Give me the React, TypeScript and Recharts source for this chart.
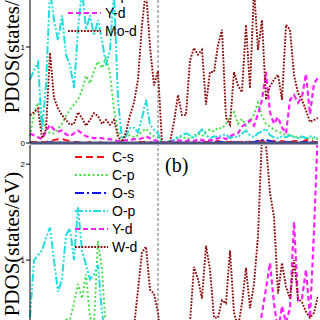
import React from 'react';
import { LineChart, Line, XAxis, YAxis, ReferenceLine, Legend } from 'recharts';

// Energy grid (eV), Fermi level at 0
const energy = [
  -8, -7.75, -7.5, -7.25, -7, -6.75, -6.5, -6.25, -6, -5.75,
  -5.5, -5.25, -5, -4.75, -4.5, -4.25, -4, -3.75, -3.5, -3.25,
  -3, -2.75, -2.5, -2.25, -2, -1.75, -1.5, -1.25, -1, -0.75,
  -0.5, -0.25, 0, 0.25, 0.5, 0.75, 1, 1.25, 1.5, 1.75,
  2, 2.25, 2.5, 2.75, 3, 3.25, 3.5, 3.75, 4, 4.25,
  4.5, 4.75, 5, 5.25, 5.5, 5.75, 6, 6.25, 6.5, 6.75,
  7, 7.25, 7.5, 7.75, 8, 8.25, 8.5, 8.75, 9, 9.25,
  9.5, 9.75, 10,
];
const xTicks = [-8, -7, -6, -5, -4, -3, -2, -1, 0, 1, 2, 3, 4, 5, 6, 7, 8, 9, 10];
const topTicks = [0, 1];
const bottomTicks = [0, 1, 2];

// Panel (a): Mo-doped
const topCs = [0.01,0.01,0.01,0.01,0.01,0.02,0.03,0.04,0.04,0.03, 0.02,0.01,0.01,0,0,0.01,0,0,0.01,0, 0,0,0,0,0,0,0,0.01,0.01,0.01, 0.01,0,0,0,0,0,0,0.01,0,0, 0.01,0.01,0,0.01,0.01,0.01,0.01,0.02,0.01,0.01, 0.01,0.02,0.01,0.01,0.02,0.01,0.01,0.02,0.02,0.01, 0.01,0.02,0.01,0.02,0.01,0.01,0.02,0.02,0.01,0.03, 0.03,0.01,0.01];
const topCp = [0.07,0.3,0.42,0.28,0.15,0.1,0.1,0.15,0.2,0.28, 0.35,0.4,0.45,0.55,0.7,0.62,0.75,0.85,0.78,0.9, 0.72,0.35,0.12,0.05,0.07,0.08,0.06,0.08,0.12,0.15, 0.1,0.07,0.05,0.01,0.01,0.02,0.03,0.07,0.05,0.06, 0.04,0.08,0.1,0.07,0.12,0.14,0.12,0.16,0.15,0.2, 0.28,0.32,0.2,0.25,0.18,0.22,0.3,0.42,0.28,0.2, 0.17,0.14,0.12,0.1,0.08,0.09,0.06,0.07,0.05,0.06, 0.04,0.05,0.04];
const topOs = [0,0,0,0,0,0.01,0,0,0.01,0, 0,0,0.01,0,0,0,0,0,0,0, 0,0,0,0,0,0,0,0,0,0, 0,0,0,0,0,0,0,0,0,0, 0,0,0,0,0,0,0,0.01,0.01,0, 0,0.01,0,0,0.01,0.01,0.01,0.02,0.03,0.03, 0.02,0.01,0.01,0,0.01,0.01,0,0,0.01,0.01, 0,0.01,0];
const topOp = [0.66,0.76,0.84,0.14,0.6,1.6,1.28,1.07,1.33,0.92, 0.81,0.57,1.18,1.6,1.18,1.33,1.12,1.28,1.07,0.81, 0.97,1.6,0.45,0.03,0.07,0.16,0.16,0.11,0.26,0.45, 0.19,0.14,0.1,0,0.01,0.02,0.03,0.06,0.08,0.1, 0.08,0.05,0.1,0.14,0.08,0.05,0.07,0.06,0.08,0.09, 0.05,0.07,0.06,0.1,0.13,0.08,0.06,0.1,0.12,0.15, 0.08,0.06,0.05,0.07,0.06,0.08,0.06,0.05,0.07,0.05, 0.07,0.06,0.06];
const topYd = [0.1,0.08,0.06,0.04,0.12,0.19,0.14,0.12,0.13,0.09, 0.07,0.1,0.13,0.1,0.07,0.06,0.05,0.05,0.05,0.04, 0.04,0.03,0.02,0.02,0.03,0.03,0.04,0.04,0.05,0.07, 0.05,0.03,0.02,0.01,0.01,0.01,0.02,0.03,0.02,0.02, 0.03,0.02,0.04,0.03,0.02,0.03,0.03,0.05,0.06,0.04, 0.07,0.09,0.1,0.17,0.2,0.24,0.18,0.3,0.45,0.74, 0.32,0.2,0.27,0.16,0.1,0.45,0.5,0.42,0.48,0.72, 0.3,0.62,0.68];
const topMd = [0.29,0.32,0.36,0.05,0.14,0.94,0.47,0.36,0.29,0.24, 0.19,0.2,0.32,0.26,0.18,0.24,0.31,0.28,0.2,0.24, 0.19,0.24,0.07,0.01,0.11,0.29,0.42,0.66,1.23,1.6, 1.0,0.6,0.75,0,0,0.01,0.22,0.5,0.29,0.29, 0.86,0.99,0.92,0.97,0.4,0.74,0.74,1.02,1.18,0.26, 0.19,0.74,0.6,0.53,1.23,0.57,1.6,0.97,1.28,0.45, 0.59,0.66,0.71,0.45,1.23,1.18,0.71,0.52,0.45,0.34, 0.22,0.24,0.26];

// Panel (b): W-doped
const botCs = [0.02,0.03,0.02,0.02,0.03,0.04,0.05,0.06,0.05,0.04, 0.03,0.02,0.02,0.01,0.01,0.01,0.01,0.01,0.01,0.01, 0.01,0.01,0,0,0,0,0.01,0.01,0.01,0.01, 0.01,0.01,0,0,0,0,0,0.01,0.01,0.01, 0.01,0.01,0.01,0.01,0.02,0.01,0.01,0.02,0.02,0.01, 0.02,0.02,0.01,0.02,0.02,0.01,0.02,0.03,0.03,0.02, 0.02,0.02,0.01,0.02,0.02,0.01,0.02,0.03,0.02,0.03, 0.02,0.02,0.01];
const botCp = [0.1,0.15,0.12,0.1,0.08,0.1,0.12,0.2,0.35,0.38, 0.38,0.55,0.75,0.6,0.85,0.4,0.35,1.2,0.9,0.25, 0.2,0.12,0.08,0.05,0.06,0.08,0.06,0.08,0.1,0.12, 0.08,0.06,0.04,0.01,0.01,0.02,0.03,0.06,0.05,0.06, 0.05,0.08,0.1,0.08,0.12,0.14,0.12,0.15,0.16,0.2, 0.25,0.3,0.22,0.24,0.2,0.22,0.28,0.35,0.3,0.22, 0.18,0.15,0.12,0.1,0.09,0.08,0.07,0.07,0.06,0.06, 0.05,0.05,0.04];
const botOs = [0.01,0.01,0.01,0.01,0.01,0.02,0.01,0.01,0.01,0.01, 0.01,0.01,0.01,0,0,0,0,0,0,0, 0,0,0,0,0,0,0,0,0,0, 0,0,0,0,0,0,0,0,0,0, 0,0,0,0,0,0,0,0.01,0.01,0.01, 0.01,0.01,0.01,0.01,0.01,0.01,0.01,0.02,0.03,0.03, 0.02,0.01,0.01,0.01,0.01,0.01,0.01,0.01,0.01,0.01, 0.01,0.01,0.01];
const botOp = [0.4,1.0,1.05,1.1,1.23,1.34,1.0,0.67,0.8,1.26, 1.33,1.0,1.55,1.1,0.95,0.8,0.85,0.95,0.45,0.2, 0.12,0.3,0.15,0.05,0.06,0.1,0.12,0.08,0.15,0.2, 0.12,0.1,0.06,0,0.01,0.02,0.04,0.06,0.05,0.08, 0.06,0.05,0.08,0.1,0.06,0.05,0.07,0.06,0.08,0.07, 0.05,0.06,0.07,0.08,0.1,0.07,0.06,0.09,0.1,0.12, 0.08,0.06,0.05,0.07,0.06,0.07,0.06,0.05,0.06,0.05, 0.06,0.05,0.06];
const botYd = [0.05,0.06,0.08,0.06,0.1,0.12,0.1,0.08,0.09,0.07, 0.06,0.08,0.1,0.08,0.06,0.05,0.04,0.04,0.05,0.04, 0.03,0.03,0.02,0.02,0.03,0.03,0.04,0.05,0.06,0.07, 0.05,0.04,0.03,0.02,0.02,0.02,0.03,0.04,0.03,0.03, 0.04,0.03,0.05,0.04,0.03,0.04,0.05,0.06,0.08,0.07, 0.1,0.12,0.14,0.2,0.25,0.3,0.22,0.2,0.45,0.7, 0.97,0.55,0.25,0.52,0.35,0.5,1.4,0.58,0.6,0.9, 0.4,1.3,2.4];
const botWd = [0.12,0.1,0.08,0.1,0.14,0.12,0.1,0.08,0.1,0.12, 0.1,0.08,0.1,0.12,0.1,0.08,0.06,0.08,0.1,0.12, 0.14,0.12,0.1,0.08,0.12,0.18,0.3,0.69,1.08,1.14, 0.69,0.65,0.45,0.1,0.05,0.05,0.1,0.15,0.2,0.25, 0.35,0.93,0.8,0.6,1.15,0.9,0.4,0.4,0.58,0.55, 1.1,0.45,0.3,0.55,0.92,0.5,0.75,1.25,2.3,2.2, 1.7,1.45,0.65,0.97,0.72,0.6,1.0,0.6,0.56,0.46, 0.4,0.45,0.63];

type Style = { color: string; dash: string; width: number };
const lineStyle: Record<string, Style> = {
  cs: { color: '#ff1010', dash: '7 4', width: 2 },
  cp: { color: '#33dd33', dash: '1.8 2.6', width: 1.9 },
  os: { color: '#1010ff', dash: '9 3 2 3', width: 2 },
  op: { color: '#22dddd', dash: '8 2 2 2 2 2', width: 2 },
  yd: { color: '#ff20ff', dash: '5 3', width: 2.2 },
  md: { color: '#8b0a0a', dash: '1.8 1.4', width: 1.9 },
};

type Item = { key: string; name: string };
const topItems: Item[] = [
  { key: 'cs', name: 'C-s' }, { key: 'cp', name: 'C-p' }, { key: 'os', name: 'O-s' },
  { key: 'op', name: 'O-p' }, { key: 'yd', name: 'Y-d' }, { key: 'md', name: 'Mo-d' },
];
const botItems: Item[] = [
  { key: 'cs', name: 'C-s' }, { key: 'cp', name: 'C-p' }, { key: 'os', name: 'O-s' },
  { key: 'op', name: 'O-p' }, { key: 'yd', name: 'Y-d' }, { key: 'md', name: 'W-d' },
];

const topData = energy.map((e, i) => ({
  e, cs: topCs[i], cp: topCp[i], os: topOs[i], op: topOp[i], yd: topYd[i], md: topMd[i],
}));
const botData = energy.map((e, i) => ({
  e, cs: botCs[i], cp: botCp[i], os: botOs[i], op: botOp[i], yd: botYd[i], md: botWd[i],
}));

const ROW = 18;
function LegendBox({ items }: { items: Item[] }) {
  return (
    <svg width={100} height={items.length * ROW} style={{ overflow: 'visible', display: 'block' }}>
      {items.map((it, k) => {
        const s = lineStyle[it.key];
        const y = ROW / 2 + k * ROW;
        return (
          <g key={it.key}>
            <line x1={0} x2={33} y1={y} y2={y} stroke={s.color} strokeWidth={s.width} strokeDasharray={s.dash} />
            <text x={37} y={y} dominantBaseline="central" fontFamily="'Liberation Sans', Arial, sans-serif" fontSize={14} fill="#000">
              {it.name}
            </text>
          </g>
        );
      })}
    </svg>
  );
}

const tickFont = { fontSize: 8, fill: '#000', fontFamily: "'Liberation Sans', Arial, sans-serif" };

function renderLines(items: Item[]) {
  return items.map((it) => {
    const s = lineStyle[it.key];
    return (
      <Line
        key={it.key}
        dataKey={it.key}
        name={it.name}
        type="linear"
        stroke={s.color}
        strokeWidth={s.width}
        strokeDasharray={s.dash}
        dot={false}
        activeDot={false}
        isAnimationActive={false}
      />
    );
  });
}

export default function App() {
  return (
    <div style={{ position: 'absolute', left: 0, top: 0, width: 320, height: 320, overflow: 'hidden', background: '#fff' }}>
      {/* axis titles and panel tag, drawn underneath the charts */}
      <svg width={320} height={320} style={{ position: 'absolute', left: 0, top: 0 }}>
        <g fontFamily="'Liberation Serif', 'Times New Roman', serif" fontSize={21} fill="#000">
          <text x={19} y={41} textAnchor="middle" transform="rotate(-90 19 41)">PDOS(states/eV)</text>
          <text x={19} y={244} textAnchor="middle" transform="rotate(-90 19 244)">PDOS(states/eV)</text>
        </g>
        <text x={165} y={172} fontFamily="'Liberation Serif', 'Times New Roman', serif" fontSize={20} fill="#000">(b)</text>
      </svg>
      {/* panel (a) */}
      <div style={{ position: 'absolute', left: 0, top: -1 }}>
        <LineChart width={318} height={150} data={topData} margin={{ top: 0, right: 0, bottom: 0, left: 0 }}>
          <XAxis
            dataKey="e" type="number" domain={[-8, 10]} ticks={xTicks} interval={0}
            height={6} tickSize={5} tick={false}
            axisLine={{ stroke: '#4c5480', strokeWidth: 3 }} tickLine={{ stroke: '#333' }}
          />
          <YAxis
            type="number" domain={[0, 1.5]} ticks={topTicks} allowDataOverflow width={30}
            tickSize={4} tickMargin={1} tick={tickFont} axisLine={{ stroke: '#000' }} tickLine={{ stroke: '#000' }}
          />
          <ReferenceLine x={0} stroke="#888" strokeDasharray="3 2" strokeWidth={1.2} />
          {renderLines(topItems)}
          <Legend
            layout="vertical" align="center" verticalAlign="middle"
            wrapperStyle={{ top: -67, left: 68, width: 100 }}
            content={() => <LegendBox items={topItems} />}
          />
        </LineChart>
      </div>
      {/* panel (b) */}
      <div style={{ position: 'absolute', left: 0, top: 145 }}>
        <LineChart width={318} height={211} data={botData} margin={{ top: 0, right: 0, bottom: 0, left: 0 }}>
          <XAxis dataKey="e" type="number" domain={[-8, 10]} hide />
          <YAxis
            type="number" domain={[0, 2.2]} ticks={bottomTicks} allowDataOverflow width={30}
            tickSize={4} tickMargin={1} tick={tickFont} axisLine={{ stroke: '#000' }} tickLine={{ stroke: '#000' }}
          />
          <ReferenceLine x={0} stroke="#888" strokeDasharray="3 2" strokeWidth={1.2} />
          {renderLines(botItems)}
          <Legend
            layout="vertical" align="center" verticalAlign="middle"
            wrapperStyle={{ top: 3, left: 75, width: 100 }}
            content={() => <LegendBox items={botItems} />}
          />
        </LineChart>
      </div>
    </div>
  );
}
